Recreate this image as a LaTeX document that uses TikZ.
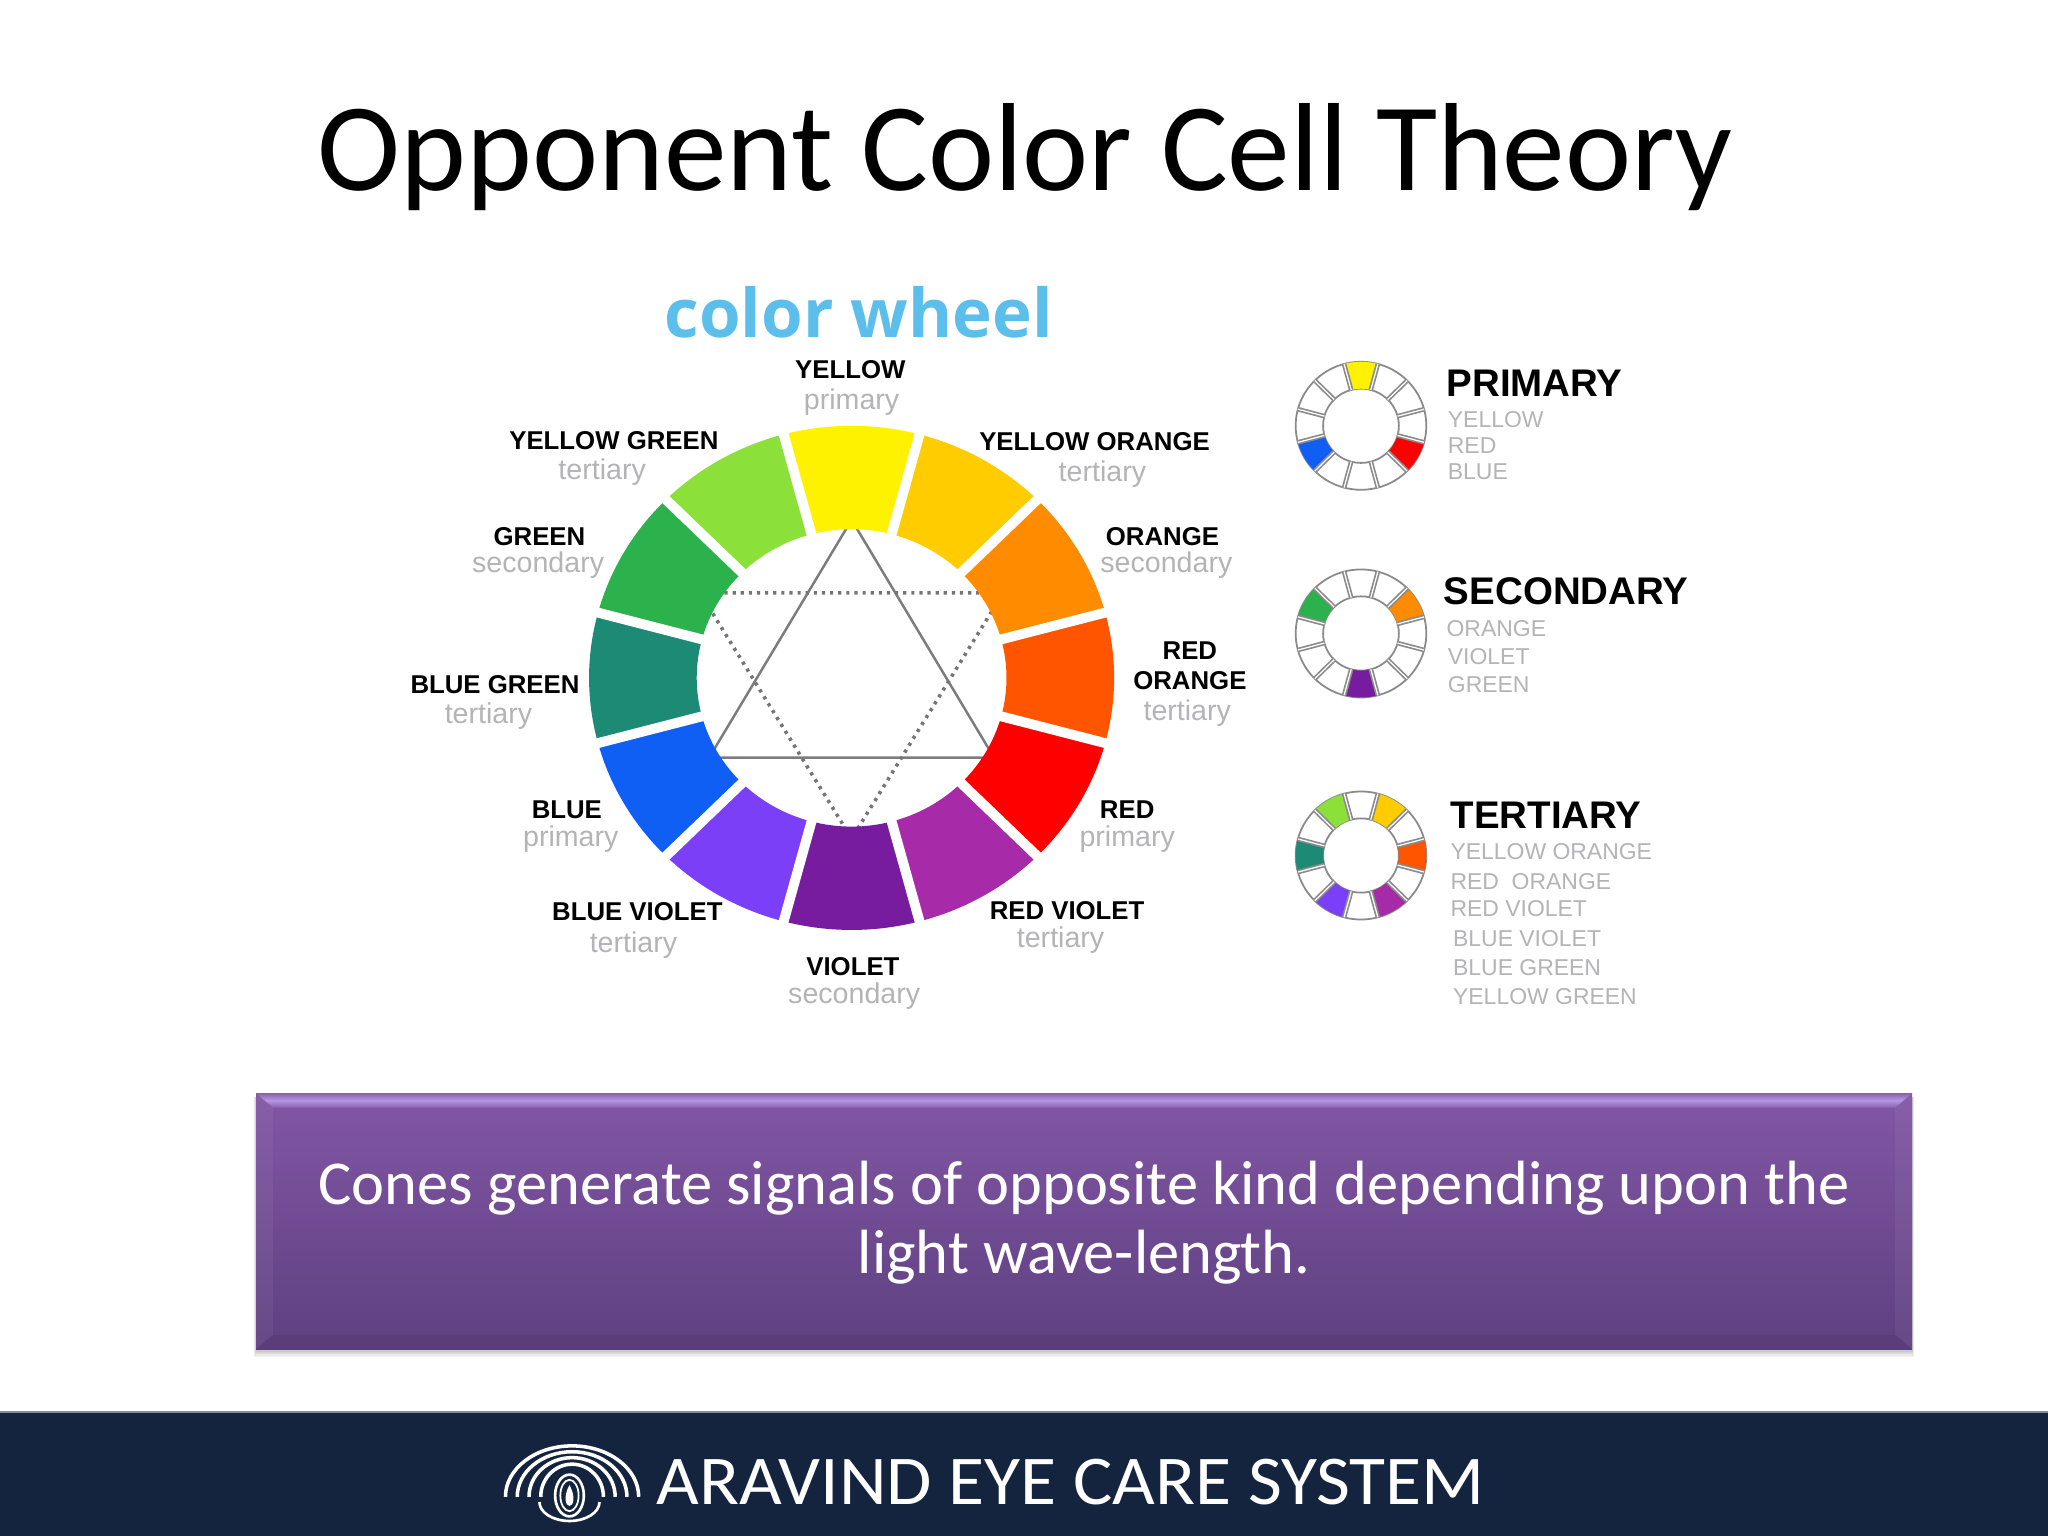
\documentclass[tikz,border=0pt]{standalone}
\usepackage{fontspec}
\setmainfont{Carlito}
\newfontfamily\labfont{Liberation Sans}
\newfontfamily\whfont{Open Sans}
\newfontfamily\brandfont[FakeStretch=1.055]{Carlito}
\definecolor{wy}{HTML}{FFF200}
\definecolor{wyo}{HTML}{FFCC00}
\definecolor{wo}{HTML}{FF8C00}
\definecolor{wro}{HTML}{FF5500}
\definecolor{wr}{HTML}{FF0000}
\definecolor{wrv}{HTML}{A72BA8}
\definecolor{wv}{HTML}{771C9E}
\definecolor{wbv}{HTML}{7A3FF7}
\definecolor{wb}{HTML}{0F5FF5}
\definecolor{wbg}{HTML}{1C8A75}
\definecolor{wg}{HTML}{2BB24C}
\definecolor{wyg}{HTML}{8BE03A}
\definecolor{lgray}{HTML}{B4B4B6}
\definecolor{foot}{HTML}{14243F}
\definecolor{footline}{HTML}{7F8CA3}
\definecolor{ring}{HTML}{8A8A8A}
\definecolor{wheelblue}{HTML}{5CBFEB}
\definecolor{ptop}{HTML}{8256A5}
\definecolor{pbot}{HTML}{5E4080}
\definecolor{ph}{HTML}{B596E6}
\definecolor{pd}{HTML}{8A62AE}
\tikzset{
  bl/.style={font=\labfont\bfseries\fontsize{7.3}{8}\selectfont,text=black,inner sep=0pt},
  gl/.style={font=\labfont\fontsize{8.1}{9}\selectfont,text=lgray,inner sep=0pt,yshift=-0.6pt},
  hd/.style={font=\labfont\bfseries\fontsize{10.9}{12}\selectfont,text=black,inner sep=0pt,anchor=west,yshift=-0.3pt},
  it/.style={font=\labfont\fontsize{6.5}{7}\selectfont,text=lgray,inner sep=0pt,anchor=west},
  solidtri/.style={draw=ring!90!black,line width=0.7pt},
  dottri/.style={draw=ring!85!black,line width=1pt,dash pattern=on 0.9pt off 1.4pt},
  logoline/.style={draw=white,line width=0.75pt},
  ministyle/.style={draw=ring,line width=0.5pt}
}
% mini colour wheel: centre x, centre y, list of angle/colour
\newcommand{\miniwheel}[3]{%
  \begin{scope}[shift={(#1,#2)},x=50*0.013cm,y=49*0.013cm]
    \draw[ministyle] (0,0) circle [radius=1];
    \draw[ministyle] (0,0) circle [radius=0.58];
    \foreach \a/\c in {#3} {
      \fill[\c] (\a-15:1) arc [start angle=\a-15,end angle=\a+15,radius=1] -- (\a+15:0.58) arc [start angle=\a+15,end angle=\a-15,radius=0.58] -- cycle;
    }
    \foreach \a in {15,45,...,345} {
      \draw[ring,line width=1.3pt] (\a:0.58) -- (\a:1);
      \draw[white,line width=0.35pt] (\a:0.58) -- (\a:1);
    }
  \end{scope}}
\begin{document}
\begin{tikzpicture}[x=0.013cm,y=-0.013cm]
\useasboundingbox (0,0) rectangle (1568,1176);
\fill[white] (0,0) rectangle (1568,1176);

% title
\node[anchor=base,inner sep=0pt,font=\fontsize{35.5}{40}\selectfont] (title) at (785,145.5) {Opponent Color Cell Theory};
\node[font=\whfont\bfseries\fontsize{19.05}{22}\selectfont,text=wheelblue,inner sep=0pt] (cw) at (657.5,239) {color wheel};

% triangles, clipped a little outside the inner ring
\begin{scope}
  \clip (652,518.5) ellipse [x radius=122,y radius=116];
  \coordinate (ta) at (652,398);
  \coordinate (tb) at (543,580);
  \coordinate (tc) at (761,580);
  \draw[solidtri] (ta) -- (tb) -- (tc) -- cycle;
  \coordinate (da) at (536,454);
  \coordinate (db) at (768,454);
  \coordinate (dc) at (652,642);
  \draw[dottri] (da) -- (db) -- (dc) -- cycle;
\end{scope}

% main wheel
\begin{scope}[shift={(652,519)},x=201*0.013cm,y=193*0.013cm]
  \foreach \a/\c in {90/wy,60/wyo,30/wo,0/wro,-30/wr,-60/wrv,-90/wv,-120/wbv,-150/wb,180/wbg,150/wg,120/wyg} {
    \fill[\c] (\a-15:1) arc [start angle=\a-15,end angle=\a+15,radius=1] -- (\a+15:0.59) arc [start angle=\a+15,end angle=\a-15,radius=0.59] -- cycle;
  }
  \foreach \a in {15,45,...,345} {
    \draw[white,line width=2.8pt] (\a:0.585) -- (\a:1.04);
  }
\end{scope}

% wheel labels
\node[bl] (l1) at (651,283) {YELLOW};
\node[gl] (l1b) at (652,306) {primary};
\node[bl] (l2) at (470,337) {YELLOW GREEN};
\node[gl] (l2b) at (461,360) {tertiary};
\node[bl] (l3) at (838,338) {YELLOW ORANGE};
\node[gl] (l3b) at (844,361) {tertiary};
\node[bl] (l4) at (413,411) {GREEN};
\node[gl] (l4b) at (412,431) {secondary};
\node[bl] (l5) at (890,411) {ORANGE};
\node[gl] (l5b) at (893,431) {secondary};
\node[bl] (l6) at (911,498) {RED};
\node[bl] (l6a) at (911,521) {ORANGE};
\node[gl] (l6b) at (909,544) {tertiary};
\node[bl] (l7) at (379,524) {BLUE GREEN};
\node[gl] (l7b) at (374,547) {tertiary};
\node[bl] (l8) at (434,620) {BLUE};
\node[gl] (l8b) at (437,641) {primary};
\node[bl] (l9) at (863,620) {RED};
\node[gl] (l9b) at (863,641) {primary};
\node[bl] (l10) at (488,698) {BLUE VIOLET};
\node[gl] (l10b) at (485,722) {tertiary};
\node[bl] (l11) at (817,697) {RED VIOLET};
\node[gl] (l11b) at (812,718) {tertiary};
\node[bl] (l12) at (653,740) {VIOLET};
\node[gl] (l12b) at (654,761) {secondary};

% mini wheels
\miniwheel{1042}{326}{90/wy,-30/wr,-150/wb}
\miniwheel{1042}{485}{30/wo,150/wg,-90/wv}
\miniwheel{1042}{655}{60/wyo,120/wyg,0/wro,-60/wrv,-120/wbv,180/wbg}

\node[hd] (p0) at (1107,293) {PRIMARY};
\node[it] (p1) at (1108,321) {YELLOW};
\node[it] (p2) at (1108,341) {RED};
\node[it] (p3) at (1108,361) {BLUE};
\node[hd] (s0) at (1105,452) {SECONDARY};
\node[it] (s1) at (1107,481) {ORANGE};
\node[it] (s2) at (1108,503) {VIOLET};
\node[it] (s3) at (1108,524) {GREEN};
\node[hd] (t0) at (1110,623) {TERTIARY};
\node[it] (t1) at (1110,652) {YELLOW ORANGE};
\node[it] (t2) at (1110,675) {RED\ \ ORANGE};
\node[it] (t3) at (1110,696) {RED VIOLET};
\node[it] (t4) at (1112,719) {BLUE VIOLET};
\node[it] (t5) at (1112,741) {BLUE GREEN};
\node[it] (t6) at (1112,763) {YELLOW GREEN};

% purple panel
\foreach \o in {1,2,3,4,5} {
  \fill[black,opacity=0.045] ({196-\o/3},{840}) rectangle ({1464+\o/3},{1033+\o+1});
}
\shade[top color=ptop,bottom color=pbot] (196,837) rectangle (1464,1033);
\shade[top color=pd,bottom color=pd,middle color=ph] (196,837) -- (1464,837) -- (1451,848) -- (209,848) -- cycle;
\fill[white,opacity=0.05] (196,837) -- (209,848) -- (209,1022) -- (196,1033) -- cycle;
\fill[white,opacity=0.05] (1464,837) -- (1451,848) -- (1451,1022) -- (1464,1033) -- cycle;
\fill[black,opacity=0.05] (196,1033) -- (209,1022) -- (1451,1022) -- (1464,1033) -- cycle;
\node[align=center,text=white,inner sep=0pt,font=\fontsize{17.7}{19.6}\selectfont] (msg) at (830,936) {Cones generate signals of opposite kind depending upon the\\light wave-length.};

% footer
\fill[foot] (0,1081) rectangle (1568,1176);
\draw[footline,line width=0.4pt] (0,1081) -- (1568,1081);
\node[anchor=base west,text=white,inner sep=0pt,font=\brandfont\fontsize{19.8}{22}\selectfont] (brand) at (502,1152) {ARAVIND EYE CARE SYSTEM};

% logo
\begin{scope}[shift={(438,1146)}]
  \draw[logoline,line width=1pt] (-51,0) arc [start angle=180,end angle=360,x radius=51,y radius=39];
  \draw[logoline,line width=1pt] (-42,0) arc [start angle=180,end angle=360,x radius=42,y radius=34.5];
  \draw[logoline,line width=1pt] (-33,0) arc [start angle=180,end angle=360,x radius=33,y radius=30];
  \draw[logoline,line width=1pt] (-24,0) arc [start angle=180,end angle=360,x radius=24,y radius=25];
  \fill[foot] (-2,-1) ellipse [x radius=12,y radius=17];
  \draw[logoline] (-2,-1) ellipse [x radius=11,y radius=16];
  \draw[logoline,line width=0.5pt] (-2,-1) ellipse [x radius=7,y radius=12];
  \fill[white] (-2,-9) .. controls (-7,0) and (-5,7) .. (-2,7) .. controls (1,7) and (3,0) .. (-2,-9) -- cycle;
  \draw[logoline] (-25,4) arc [start angle=180,end angle=0,x radius=23,y radius=14.5];
\end{scope}
\end{tikzpicture}
\end{document}
